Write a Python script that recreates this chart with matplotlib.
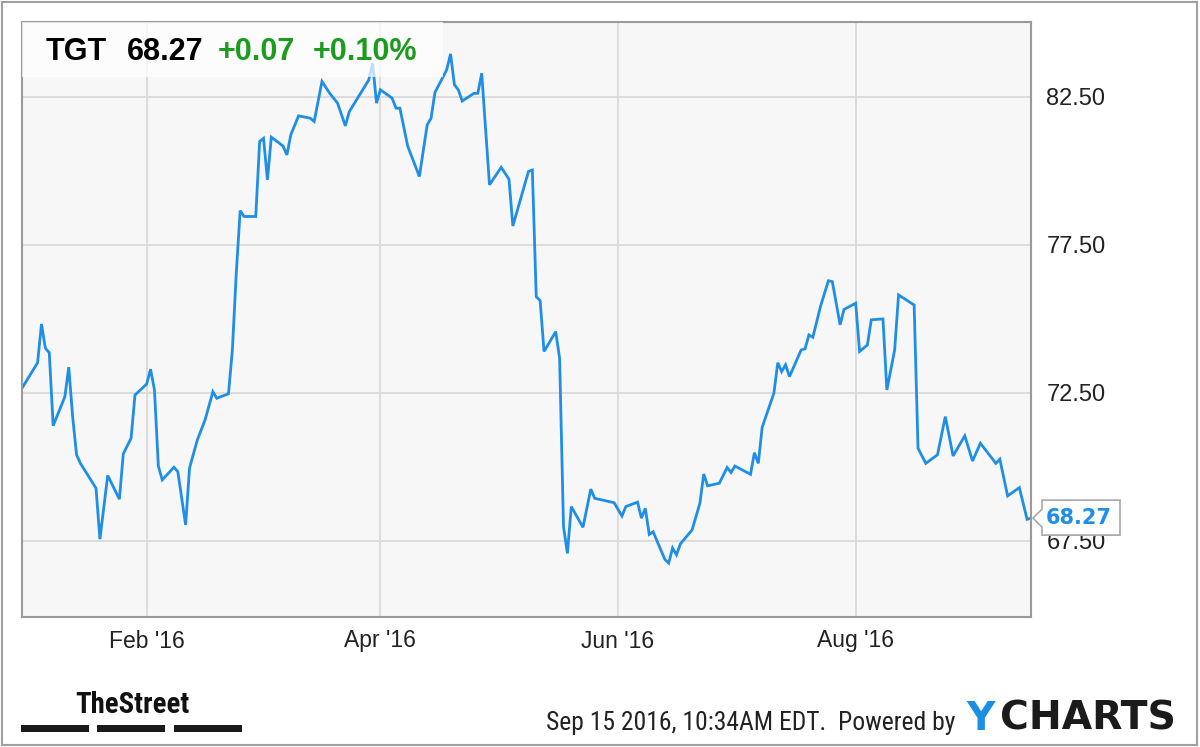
import matplotlib
matplotlib.use("Agg")
import matplotlib.pyplot as plt
import matplotlib.dates as mdates
import matplotlib.transforms as mtransforms
from matplotlib.patches import Rectangle, Polygon
from matplotlib import font_manager as fm
import pandas as pd

# TGT daily close
dates = [
    "2015-12-31", "2016-01-04", "2016-01-05", "2016-01-06", "2016-01-07", "2016-01-08",
    "2016-01-11", "2016-01-12", "2016-01-13", "2016-01-14", "2016-01-15", "2016-01-19",
    "2016-01-20", "2016-01-22", "2016-01-25", "2016-01-26", "2016-01-28", "2016-01-29",
    "2016-02-01", "2016-02-02", "2016-02-03", "2016-02-04", "2016-02-05", "2016-02-08",
    "2016-02-09", "2016-02-11", "2016-02-12", "2016-02-14", "2016-02-16", "2016-02-18",
    "2016-02-19", "2016-02-22", "2016-02-23", "2016-02-24", "2016-02-25", "2016-02-26",
    "2016-02-29", "2016-03-01", "2016-03-02", "2016-03-03", "2016-03-04", "2016-03-07",
    "2016-03-08", "2016-03-09", "2016-03-11", "2016-03-14", "2016-03-15", "2016-03-17",
    "2016-03-19", "2016-03-21", "2016-03-23", "2016-03-24", "2016-03-29", "2016-03-30",
    "2016-03-31", "2016-04-01", "2016-04-04", "2016-04-05", "2016-04-06", "2016-04-08",
    "2016-04-11", "2016-04-13", "2016-04-14", "2016-04-15", "2016-04-18", "2016-04-19",
    "2016-04-20", "2016-04-21", "2016-04-22", "2016-04-25", "2016-04-26", "2016-04-27",
    "2016-04-29", "2016-05-02", "2016-05-04", "2016-05-05", "2016-05-09", "2016-05-10",
    "2016-05-11", "2016-05-12", "2016-05-13", "2016-05-16", "2016-05-17", "2016-05-18",
    "2016-05-19", "2016-05-20", "2016-05-23", "2016-05-25", "2016-05-26", "2016-05-31",
    "2016-06-02", "2016-06-03", "2016-06-06", "2016-06-07", "2016-06-08", "2016-06-09",
    "2016-06-10", "2016-06-13", "2016-06-14", "2016-06-15", "2016-06-16", "2016-06-17",
    "2016-06-20", "2016-06-21", "2016-06-22", "2016-06-23", "2016-06-24", "2016-06-27",
    "2016-06-29", "2016-06-30", "2016-07-01", "2016-07-05", "2016-07-06", "2016-07-07",
    "2016-07-08", "2016-07-11", "2016-07-12", "2016-07-13", "2016-07-14", "2016-07-15",
    "2016-07-18", "2016-07-19", "2016-07-20", "2016-07-21", "2016-07-23", "2016-07-25",
    "2016-07-26", "2016-07-28", "2016-07-29", "2016-08-01", "2016-08-02", "2016-08-04",
    "2016-08-05", "2016-08-08", "2016-08-09", "2016-08-11", "2016-08-12", "2016-08-16",
    "2016-08-17", "2016-08-19", "2016-08-22", "2016-08-24", "2016-08-26", "2016-08-29",
    "2016-08-31", "2016-09-02", "2016-09-06", "2016-09-07", "2016-09-09", "2016-09-12",
    "2016-09-14", "2016-09-15",
]
prices = [
    72.66, 73.52, 74.83, 74.01, 73.86, 71.39,
    72.37, 73.37, 71.70, 70.41, 70.12, 69.28,
    67.56, 69.71, 68.91, 70.44, 70.97, 72.43,
    72.80, 73.30, 72.60, 70.03, 69.56, 69.99,
    69.84, 68.04, 69.96, 70.91, 71.59, 72.54,
    72.32, 72.47, 73.95, 76.54, 78.66, 78.46,
    78.46, 80.99, 81.10, 79.70, 81.14, 80.84,
    80.54, 81.22, 81.86, 81.78, 81.67, 83.02,
    82.62, 82.29, 81.52, 82.00, 83.07, 83.64,
    82.29, 82.74, 82.46, 82.12, 82.12, 80.84,
    79.81, 81.55, 81.78, 82.65, 83.41, 83.95,
    82.91, 82.74, 82.36, 82.62, 82.62, 83.30,
    79.53, 80.12, 79.72, 78.14, 79.98, 80.03,
    75.75, 75.62, 73.90, 74.57, 73.67, 67.98,
    67.08, 68.66, 67.96, 69.25, 68.94, 68.79,
    68.34, 68.66, 68.81, 68.27, 68.60, 67.72,
    67.81, 66.88, 66.75, 67.26, 67.03, 67.40,
    67.87, 68.32, 68.77, 69.76, 69.36, 69.45,
    69.98, 69.81, 70.03, 69.75, 70.48, 70.12,
    71.34, 72.49, 73.52, 73.22, 73.45, 73.05,
    73.95, 73.99, 74.46, 74.38, 75.44, 76.29,
    76.26, 74.80, 75.32, 75.53, 73.90, 74.12,
    74.97, 75.00, 72.60, 73.95, 75.81, 75.47,
    70.63, 70.12, 70.41, 71.70, 70.37, 71.05,
    70.20, 70.80, 70.12, 70.26, 69.02, 69.30,
    68.23, 68.27,
]
ticker = "TGT"
last_price = "68.27"
change = "+0.07"
change_pct = "+0.10%"
y_ticks = [67.5, 72.5, 77.5, 82.5]
stamp = "Sep 15 2016, 10:34AM EDT.  Powered by"

dates = pd.to_datetime(dates)

W, H = 1200, 747
BLUE = "#1f8ee6"
GREEN = "#1c9c1c"

have = {f.name for f in fm.fontManager.ttflist}


def pick(*names):
    for n in names:
        if n in have:
            return n
    return "Liberation Sans"


narrow = pick("Liberation Sans Narrow", "Roboto Condensed", "Noto Sans Condensed",
              "DejaVu Sans Condensed", "Liberation Sans")

fig = plt.figure(figsize=(W / 100, H / 100), dpi=100, facecolor="white")
ax = fig.add_axes([22 / W, 1 - 617 / H, 1009 / W, 595 / H])
ax.set_facecolor("#f7f7f7")

ax.plot(dates, prices, color=BLUE, lw=2.0, zorder=2, solid_joinstyle="miter")

ax.set_xlim(dates[0], dates[-1])
ax.set_ylim(64.93, 85.03)
ax.xaxis.set_major_locator(mdates.MonthLocator(bymonth=[2, 4, 6, 8]))
ax.xaxis.set_major_formatter(mdates.DateFormatter("%b '%y"))
ax.set_yticks(y_ticks)
ax.yaxis.set_major_formatter(plt.FuncFormatter(lambda v, p: f"{v:.2f}"))
ax.yaxis.tick_right()
ax.grid(True, color="#dadada", lw=1.3)
ax.set_axisbelow(True)
ax.tick_params(axis="both", length=0, colors="#222222")
ax.tick_params(axis="y", pad=11, labelsize=17)
ax.tick_params(axis="x", pad=9, labelsize=16.5)
for lab in ax.get_xticklabels() + ax.get_yticklabels():
    lab.set_family("Liberation Sans")
for s in ax.spines.values():
    s.set_color("#9a9a9a")
    s.set_linewidth(1.5)

# translucent header box over the top-left of the plot
ax.add_patch(Rectangle((0, (617 - 77) / 595), (443 - 22) / 1009, 77 / 595,
                       transform=ax.transAxes, facecolor="white", alpha=0.72,
                       edgecolor="none", zorder=3))


def px(x, y):
    return x / W, 1 - y / H


hdr = dict(fontsize=22, fontweight="bold", family="Liberation Sans", va="baseline", zorder=4)
fig.text(*px(46, 60), ticker, color="black", **hdr)
fig.text(*px(127, 60), last_price, color="black", **hdr)
fig.text(*px(218, 60), change, color=GREEN, **hdr)
fig.text(*px(313, 60), change_pct, color=GREEN, **hdr)

# last price callout at the right edge
anchor = fig.dpi_scale_trans + mtransforms.ScaledTranslation(
    1.0, prices[-1], mtransforms.blended_transform_factory(ax.transAxes, ax.transData))
callout = Polygon([(0.02, 0), (0.11, 0.09), (0.11, 0.18), (0.89, 0.18),
                   (0.89, -0.17), (0.11, -0.17), (0.11, -0.09)], closed=True,
                  transform=anchor, facecolor="white", edgecolor="#a8a8a8", lw=1.2,
                  clip_on=False, zorder=6)
ax.add_patch(callout)
ax.annotate(last_price, xy=(1.0, prices[-1]),
            xycoords=mtransforms.blended_transform_factory(ax.transAxes, ax.transData),
            xytext=(34.5, 0), textcoords="offset points", ha="center", va="center",
            fontsize=15, fontweight="bold", family="DejaVu Sans", color=BLUE,
            zorder=7, annotation_clip=False)

# footer
renderer = fig.canvas.get_renderer()


def fit(t, width):
    w = t.get_window_extent(renderer).width
    t.set_fontsize(t.get_fontsize() * width / w)


logo = fig.text(*px(75, 713), "TheStreet", family=narrow, fontweight="bold",
                fontsize=20, color="#111111", va="baseline")
fit(logo, 113)
for x0, x1 in [(21, 89), (97, 165), (174, 242)]:
    fig.patches.append(Rectangle(px(x0, 732), (x1 - x0) / W, 7.5 / H,
                                 transform=fig.transFigure, facecolor="#1a1a1a",
                                 edgecolor="none"))

foot = fig.text(*px(546, 730), stamp, family=narrow, fontsize=15, color="#222222",
                va="baseline")
fit(foot, 411)

charts = fig.text(*px(1000, 730), "CHARTS", family="DejaVu Sans", fontweight="bold",
                  fontsize=26, color="#1b1b1b", va="baseline")
fit(charts, 176)
fig.text(*px(966, 730), "Y", family="DejaVu Sans", fontweight="bold",
         fontsize=charts.get_fontsize(), color="#1a8fe3", va="baseline")

# outer frame of the image
fig.patches.append(Rectangle(px(2, 745), 1195 / W, 743 / H, transform=fig.transFigure,
                             facecolor="none", edgecolor="#a0a0a0", lw=1.5))

fig.savefig("out.png", dpi=100, facecolor="white")
